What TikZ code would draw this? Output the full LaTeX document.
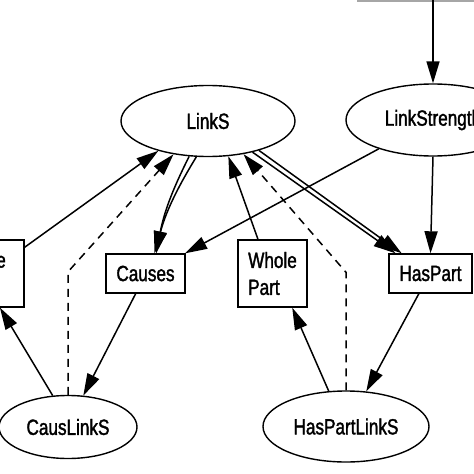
\documentclass[tikz,border=0pt]{standalone}
\usepackage{fontspec}
\setmainfont{Liberation Sans}[FakeStretch=0.78,FakeBold=1.6]
\usetikzlibrary{shapes.geometric,arrows.meta}

\begin{document}
\begin{tikzpicture}[
        x=1pt, y=-1pt,
        every node/.style={font=\fontsize{22}{27}\selectfont},
        varell/.style={ellipse, draw, line width=1.4pt, inner sep=0pt},
        varbox/.style={rectangle, draw, line width=1.4pt, align=left, inner sep=0pt},
        link/.style={line width=1.5pt, -{Triangle[length=22pt,width=13pt]}},
        weak/.style={link, dash pattern=on 8pt off 6pt},
    ]
    \useasboundingbox (0,0) rectangle (474,474);

    % variables
    \node[varell, minimum width=174pt, minimum height=71pt] (LinkS) at (208,121) {LinkS};
    \node[varell, minimum width=174pt, minimum height=72pt] (LinkStrength) at (433,120) {LinkStrength};
    \node[varbox, minimum width=86pt, minimum height=67pt] (CausEff) at (-19,273.5) {Cause\\Effect};
    \node[varbox, minimum width=79pt, minimum height=39pt] (Causes) at (145.5,273.5) {Causes};
    \node[varbox, minimum width=69pt, minimum height=67pt] (WholePart) at (272.5,273.5) {Whole\\Part};
    \node[varbox, minimum width=83pt, minimum height=39pt] (HasPart) at (430.5,273.5) {HasPart};
    \node[varell, minimum width=138pt, minimum height=63pt] (CausLinkS) at (68,427) {CausLinkS};
    \node[varell, minimum width=166pt, minimum height=71pt] (HasPartLinkS) at (346,426.5) {HasPartLinkS};

    % input from above
    \coordinate (feed) at (433,0);
    \draw[gray!70, line width=2pt] (357,1) -- (474,1);
    \draw[link] (feed) -- (LinkStrength.north);

    % links
    \draw[link] (CausEff.31) -- (LinkS.-149);
    \draw[weak] (CausLinkS.north) -- ++(0,-123) -- (LinkS.-136);
    \draw[link] (LinkS.-118) to[bend right=8] (Causes.62);
    \draw[link] (LinkS.-108) to[bend right=8] (Causes.66);
    \draw[link] (WholePart.113) -- (LinkS.-60);
    \draw[weak] (HasPartLinkS.north) -- ++(0,-118) -- (LinkS.-43);
    \draw[link] (LinkS.-35) -- (HasPart.150);
    \draw[link] (LinkS.-30) -- (HasPart.145);
    \draw[link] (LinkStrength.-152) -- (Causes.27);
    \draw[link] (LinkStrength.south) -- (HasPart.north);
    \draw[link] (CausLinkS.116) -- (CausEff.-61);
    \draw[link] (Causes.-116) -- (CausLinkS.64);
    \draw[link] (HasPartLinkS.116) -- (WholePart.-60);
    \draw[link] (HasPart.-120) -- (HasPartLinkS.60);
\end{tikzpicture}
\end{document}
